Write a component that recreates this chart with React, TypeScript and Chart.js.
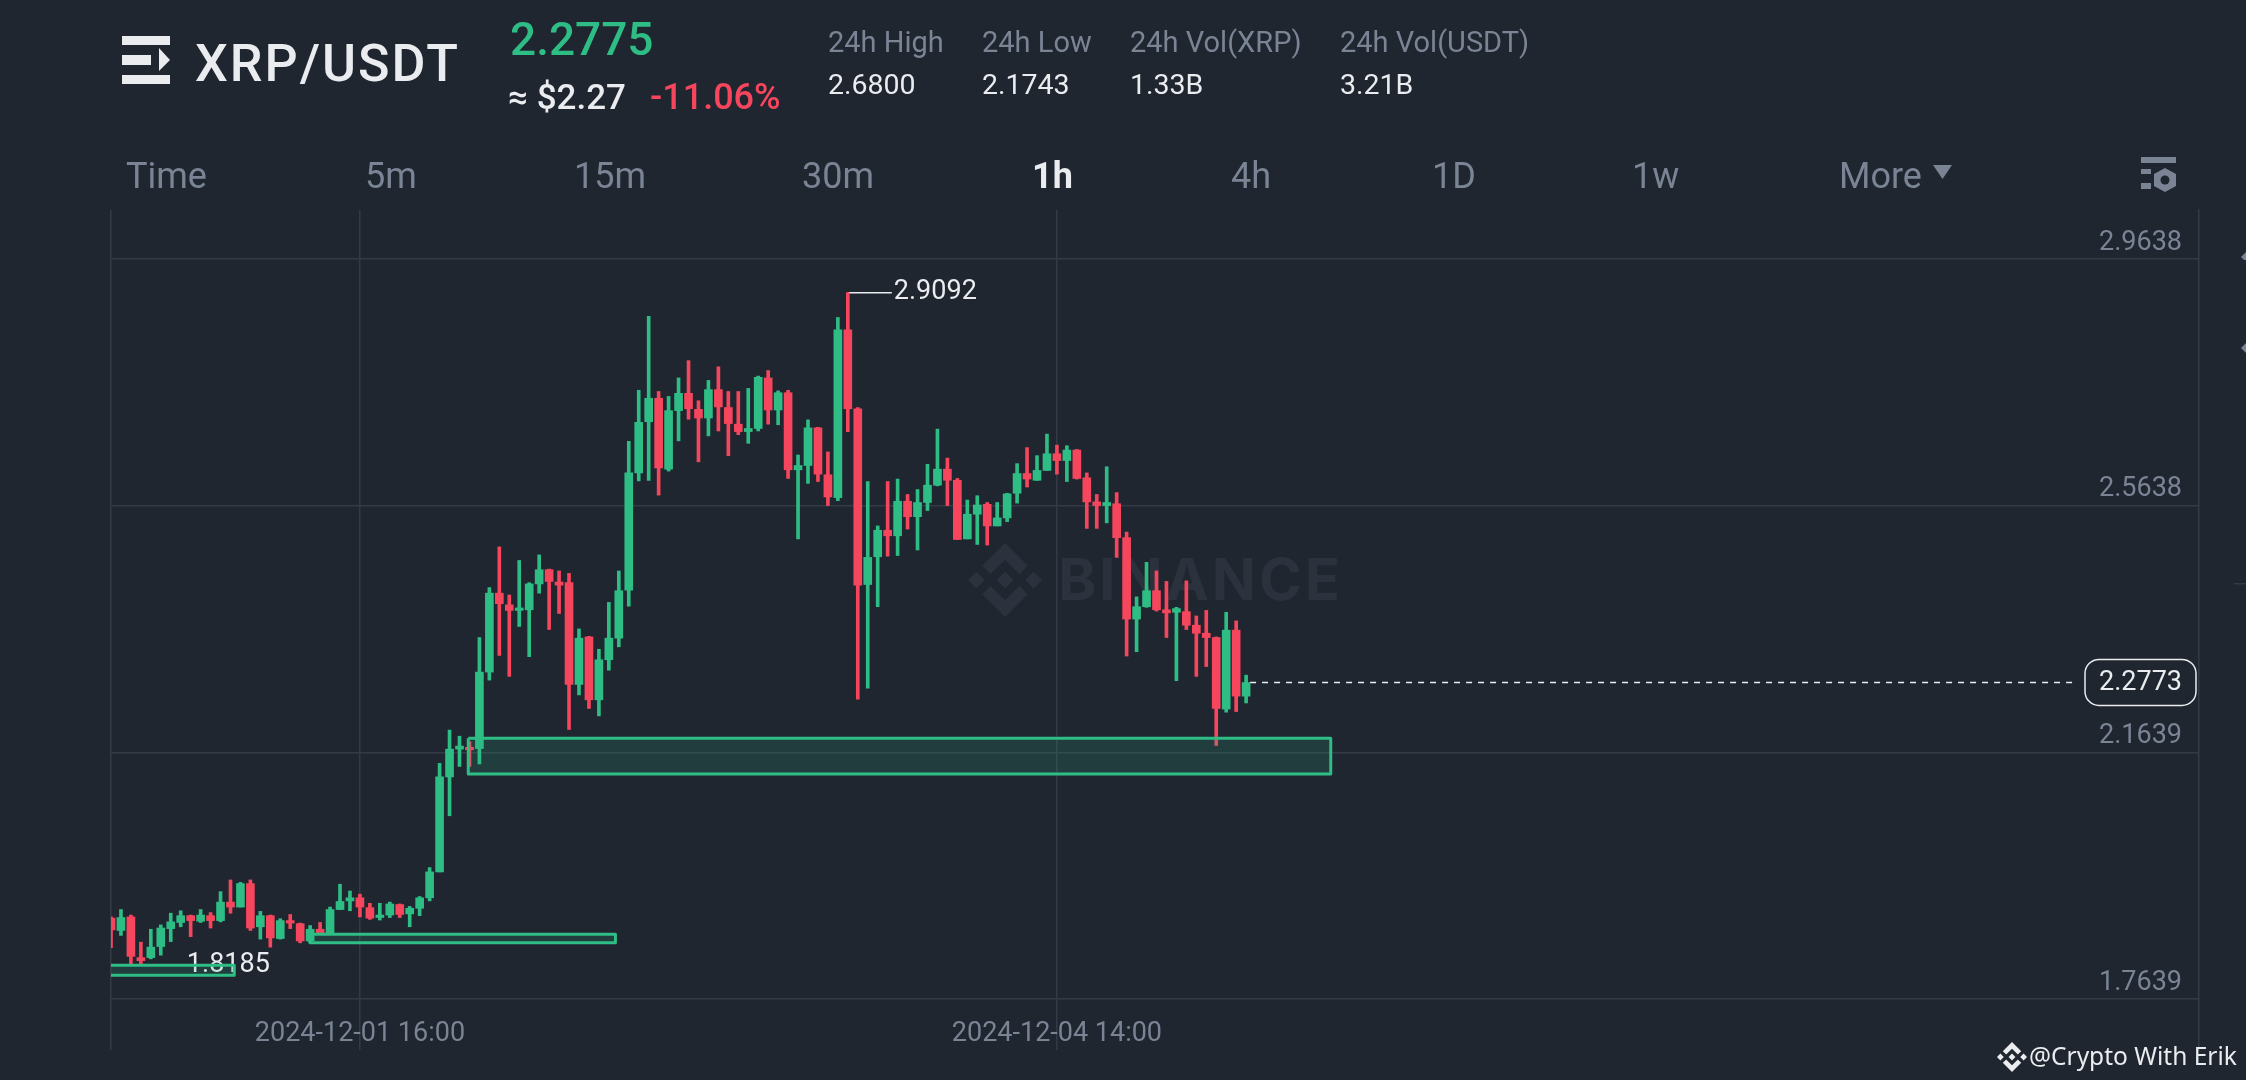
import React, { useEffect, useRef } from 'react';
import { Chart, registerables } from 'chart.js';

Chart.register(...registerables);

// hourly candles, one entry per hour
const opens = [
  1.895, 1.875, 1.897, 1.831, 1.831, 1.849, 1.878, 1.888, 1.899, 1.890,
  1.899, 1.891, 1.921, 1.913, 1.951, 1.881, 1.899, 1.862, 1.891, 1.886,
  1.858, 1.877, 1.871, 1.909, 1.923, 1.928, 1.912, 1.896, 1.900, 1.917,
  1.902, 1.911, 1.928, 1.970, 2.124, 2.169, 2.172, 2.170, 2.294, 2.422,
  2.403, 2.394, 2.395, 2.437, 2.460, 2.440, 2.439, 2.274, 2.351, 2.249,
  2.314, 2.349, 2.427, 2.617, 2.700, 2.738, 2.623, 2.718, 2.746, 2.720,
  2.706, 2.752, 2.723, 2.696, 2.684, 2.689, 2.771, 2.719, 2.747, 2.622,
  2.629, 2.690, 2.614, 2.577, 2.849, 2.721, 2.436, 2.481, 2.524, 2.515,
  2.571, 2.546, 2.569, 2.597, 2.623, 2.605, 2.510, 2.550, 2.566, 2.531,
  2.544, 2.584, 2.616, 2.605, 2.621, 2.648, 2.637, 2.654, 2.609, 2.570,
  2.564, 2.567, 2.512, 2.380, 2.400, 2.426, 2.395, 2.391, 2.392, 2.370,
  2.357, 2.350, 2.234, 2.362, 2.255,
];
const highs = [
  1.897, 1.909, 1.900, 1.856, 1.877, 1.884, 1.903, 1.907, 1.900, 1.909,
  1.904, 1.938, 1.957, 1.953, 1.957, 1.906, 1.900, 1.894, 1.901, 1.887,
  1.883, 1.888, 1.913, 1.950, 1.939, 1.934, 1.919, 1.919, 1.921, 1.918,
  1.914, 1.930, 1.977, 2.146, 2.200, 2.190, 2.181, 2.350, 2.431, 2.497,
  2.419, 2.475, 2.439, 2.484, 2.461, 2.458, 2.454, 2.364, 2.352, 2.331,
  2.407, 2.458, 2.668, 2.751, 2.871, 2.749, 2.741, 2.771, 2.799, 2.734,
  2.767, 2.789, 2.749, 2.749, 2.754, 2.774, 2.783, 2.750, 2.751, 2.646,
  2.703, 2.691, 2.651, 2.869, 2.9092, 2.723, 2.603, 2.531, 2.603, 2.607,
  2.582, 2.590, 2.631, 2.688, 2.641, 2.608, 2.573, 2.580, 2.569, 2.569,
  2.584, 2.632, 2.658, 2.645, 2.680, 2.662, 2.661, 2.655, 2.617, 2.582,
  2.627, 2.585, 2.521, 2.416, 2.472, 2.458, 2.441, 2.399, 2.442, 2.385,
  2.394, 2.351, 2.391, 2.377, 2.289,
];
const lows = [
  1.847, 1.867, 1.821, 1.8185, 1.829, 1.835, 1.857, 1.881, 1.865, 1.888,
  1.879, 1.889, 1.903, 1.913, 1.875, 1.861, 1.848, 1.861, 1.878, 1.855,
  1.856, 1.870, 1.870, 1.909, 1.907, 1.897, 1.893, 1.892, 1.896, 1.896,
  1.881, 1.899, 1.923, 1.970, 2.061, 2.141, 2.141, 2.145, 2.281, 2.321,
  2.287, 2.368, 2.319, 2.422, 2.363, 2.389, 2.201, 2.257, 2.235, 2.223,
  2.297, 2.335, 2.401, 2.604, 2.605, 2.581, 2.620, 2.669, 2.704, 2.635,
  2.677, 2.685, 2.645, 2.679, 2.665, 2.685, 2.696, 2.695, 2.608, 2.510,
  2.600, 2.603, 2.564, 2.572, 2.684, 2.250, 2.268, 2.400, 2.482, 2.483,
  2.526, 2.492, 2.556, 2.596, 2.564, 2.509, 2.510, 2.501, 2.500, 2.531,
  2.538, 2.568, 2.594, 2.605, 2.621, 2.615, 2.603, 2.607, 2.527, 2.527,
  2.536, 2.480, 2.320, 2.327, 2.399, 2.393, 2.350, 2.280, 2.363, 2.287,
  2.303, 2.175, 2.229, 2.230, 2.244,
];
const closes = [
  1.876, 1.896, 1.833, 1.826, 1.848, 1.879, 1.889, 1.899, 1.891, 1.900,
  1.891, 1.921, 1.913, 1.951, 1.879, 1.899, 1.863, 1.891, 1.887, 1.858,
  1.877, 1.871, 1.909, 1.922, 1.928, 1.913, 1.895, 1.900, 1.918, 1.901,
  1.911, 1.928, 1.970, 2.124, 2.169, 2.174, 2.168, 2.294, 2.422, 2.405,
  2.394, 2.398, 2.437, 2.460, 2.441, 2.435, 2.274, 2.349, 2.249, 2.314,
  2.349, 2.426, 2.617, 2.699, 2.738, 2.625, 2.718, 2.746, 2.721, 2.706,
  2.752, 2.724, 2.697, 2.684, 2.689, 2.772, 2.719, 2.747, 2.622, 2.629,
  2.690, 2.615, 2.578, 2.849, 2.721, 2.435, 2.480, 2.524, 2.515, 2.571,
  2.546, 2.569, 2.597, 2.623, 2.605, 2.509, 2.550, 2.565, 2.531, 2.544,
  2.583, 2.616, 2.607, 2.621, 2.648, 2.637, 2.654, 2.608, 2.570, 2.564,
  2.569, 2.512, 2.380, 2.400, 2.426, 2.395, 2.390, 2.397, 2.370, 2.357,
  2.350, 2.235, 2.362, 2.255, 2.277,
];

const priceTicks = [1.7639, 2.1639, 2.5638, 2.9638];
const timeTickIndexes = [25, 95];
const timeLabels = ['2024-12-01 16:00', '2024-12-04 14:00'];

// drawn zones: [start index, end index, top price, bottom price]
const zones = [
  [35.88, 122.5, 2.1866, 2.1287],
  [19.98, 50.66, 1.8688, 1.8552],
  [-1, 12.38, 1.8185, 1.8023],
];

const lastPrice = 2.2773;
const lastPriceLineEnd = 197;
const highMark = { index: 74, price: 2.9092 };
const lowMark = { index: 3, price: 1.8185 };

const tabNames = ['Time', '5m', '15m', '30m', '1h', '4h', '1D', '1w', 'More'];
const tabLefts = [126, 365, 574, 802, 1032, 1231, 1432, 1632, 1839];

const statLabels = ['24h High', '24h Low', '24h Vol(XRP)', '24h Vol(USDT)'];
const statValues = ['2.6800', '2.1743', '1.33B', '3.21B'];
const statLefts = [828, 982, 1130, 1340];

const BG = '#1f2630';
const UP = '#2ebd85';
const DOWN = '#f6465d';
const GRID = '#333a46';
const MUTED = '#7a8494';
const LIGHT = '#eaecef';
const LOGO =
  'M38.73 53.2l24.59-24.58 24.6 24.6 14.3-14.31L63.32 0 24.43 38.9l14.3 14.3zM0 63.31l14.3-14.31 14.31 14.31-14.31 14.3zM38.73 73.41l24.59 24.59 24.6-24.6 14.31 14.29-38.9 38.91-38.9-38.88v-.02zM98 63.31l14.3-14.31 14.31 14.3-14.31 14.32zM77.83 63.3L63.32 48.78 52.59 59.51l-1.24 1.23-2.54 2.54 14.51 14.5 14.51-14.47z';

const colors = closes.map((c, i) => (c >= opens[i] ? UP : DOWN));

const annotations = {
  id: 'annotations',
  beforeDatasetsDraw(chart: any) {
    const { ctx, scales } = chart;
    ctx.save();
    ctx.font = '27px Roboto';
    ctx.textBaseline = 'middle';
    ctx.textAlign = 'left';
    [highMark, lowMark].forEach((m) => {
      const x = scales.x.getPixelForValue(m.index);
      const y = scales.y.getPixelForValue(m.price);
      ctx.strokeStyle = LIGHT;
      ctx.lineWidth = 1.5;
      ctx.beginPath();
      ctx.moveTo(x, y);
      ctx.lineTo(x + 44, y);
      ctx.stroke();
      ctx.fillStyle = LIGHT;
      ctx.fillText(m.price.toFixed(4), x + 46, y);
    });
    ctx.restore();
  },
  afterDatasetsDraw(chart: any) {
    const { ctx, scales, chartArea } = chart;
    const y = scales.y.getPixelForValue(lastPrice);
    const right = chartArea.right - 3;
    ctx.save();
    ctx.beginPath();
    ctx.roundRect(right - 111, y - 23, 111, 46, 14);
    ctx.fillStyle = BG;
    ctx.fill();
    ctx.strokeStyle = LIGHT;
    ctx.lineWidth = 1.5;
    ctx.stroke();
    ctx.font = '27px Roboto';
    ctx.fillStyle = LIGHT;
    ctx.textAlign = 'right';
    ctx.textBaseline = 'middle';
    ctx.fillText(lastPrice.toFixed(4), chartArea.right - 17, y + 1);
    ctx.restore();
  },
};

const Text: React.FC<{ left: number; cy: number; size: number; color: string; weight?: number; spacing?: number; children: React.ReactNode }> = ({
  left,
  cy,
  size,
  color,
  weight = 400,
  spacing = 0,
  children,
}) => (
  <div
    style={{
      position: 'absolute',
      left,
      top: cy - size / 2,
      fontSize: size,
      lineHeight: 1,
      fontWeight: weight,
      letterSpacing: spacing,
      color,
      whiteSpace: 'nowrap',
    }}
  >
    {children}
  </div>
);

const App: React.FC = () => {
  const canvasRef = useRef<HTMLCanvasElement | null>(null);

  useEffect(() => {
    if (!canvasRef.current) return;
    const ctx = canvasRef.current.getContext('2d');
    if (!ctx) return;

    const myChart = new Chart(ctx, {
      data: {
        datasets: [
          ...zones.map((z) => ({
            type: 'line' as const,
            data: [
              { x: z[0], y: z[2] },
              { x: z[1], y: z[2] },
              { x: z[1], y: z[3] },
              { x: z[0], y: z[3] },
              { x: z[0], y: z[2] },
            ],
            borderColor: UP,
            borderWidth: 3,
            borderJoinStyle: 'round' as const,
            backgroundColor: 'rgba(46,189,133,0.16)',
            fill: 'shape',
            pointRadius: 0,
            clip: 0,
            order: 0,
          })),
          {
            type: 'line' as const,
            data: [
              { x: opens.length - 0.6, y: lastPrice },
              { x: lastPriceLineEnd, y: lastPrice },
            ],
            borderColor: LIGHT,
            borderWidth: 1.5,
            borderDash: [6, 6],
            pointRadius: 0,
            order: 0,
          },
          {
            type: 'bar' as const,
            data: opens.map((o, i) => ({ x: i, y: [o, closes[i]] })),
            backgroundColor: colors,
            barThickness: 8,
            grouped: false,
            clip: 0,
            order: 1,
          },
          {
            type: 'bar' as const,
            data: lows.map((l, i) => ({ x: i, y: [l, highs[i]] })),
            backgroundColor: colors,
            barThickness: 3,
            grouped: false,
            clip: 0,
            order: 2,
          },
        ],
      },
      options: {
        responsive: false,
        animation: false,
        layout: { padding: { left: 111, right: 47, top: 210, bottom: 30 } },
        plugins: { legend: { display: false }, tooltip: { enabled: false } },
        scales: {
          x: {
            type: 'linear',
            offset: false,
            min: 0,
            max: 209.7,
            afterBuildTicks: (scale: any) => {
              scale.ticks = [0, ...timeTickIndexes].map((value) => ({ value }));
            },
            afterFit: (scale: any) => {
              scale.height = 0;
            },
            grid: { offset: false, color: GRID, lineWidth: 1.5, drawTicks: false },
            border: { display: false },
            ticks: {
              autoSkip: false,
              maxRotation: 0,
              mirror: true,
              padding: 0,
              color: MUTED,
              font: { family: 'Roboto', size: 27 },
              callback: (value: any) => {
                const k = timeTickIndexes.indexOf(Number(value));
                return k < 0 ? '' : timeLabels[k];
              },
            },
          },
          y: {
            type: 'linear',
            position: 'right',
            min: 1.6812,
            max: 3.0433,
            afterBuildTicks: (scale: any) => {
              scale.ticks = priceTicks.map((value) => ({ value }));
            },
            afterFit: (scale: any) => {
              scale.width = 0;
            },
            grid: { color: GRID, lineWidth: 1.5, drawTicks: false },
            border: { display: true, color: GRID, width: 1.5 },
            ticks: {
              mirror: true,
              padding: -17,
              labelOffset: -16,
              color: MUTED,
              font: { family: 'Roboto', size: 27 },
              callback: (value: any) => Number(value).toFixed(4),
            },
          },
        },
      },
      plugins: [annotations],
    } as any);

    return () => {
      myChart.destroy();
    };
  }, []);

  return (
    <div
      style={{
        position: 'absolute',
        left: 0,
        top: 0,
        width: 2246,
        height: 1080,
        overflow: 'hidden',
        background: BG,
        fontFamily: 'Roboto, sans-serif',
      }}
    >
      {/* watermark sits under the transparent canvas */}
      <svg width={2246} height={1080} style={{ position: 'absolute', left: 0, top: 0 }}>
        <g transform="translate(968 543) scale(0.585)">
          <path d={LOGO} fill="#2c323d" />
        </g>
        <text x={1058} y={600} fontFamily="Inter" fontWeight={700} fontSize={58} fill="#2c323d" textLength={282} lengthAdjust="spacing">
          BINANCE
        </text>
      </svg>

      <canvas ref={canvasRef} width={2246} height={1080} style={{ position: 'absolute', left: 0, top: 0 }} />

      {/* pair icon */}
      <svg width={60} height={60} style={{ position: 'absolute', left: 121, top: 30 }}>
        <rect x={1} y={6} width={48} height={9} fill={LIGHT} />
        <rect x={1} y={25} width={29} height={10} fill={LIGHT} />
        <path d="M38 18 L49 30 L38 41 Z" fill={LIGHT} />
        <rect x={1} y={45} width={48} height={9} fill={LIGHT} />
      </svg>
      <Text left={195} cy={64} size={52} color={LIGHT} weight={500} spacing={2}>XRP/USDT</Text>
      <Text left={510} cy={39} size={46} color={UP} weight={500}>2.2775</Text>
      <Text left={508} cy={97} size={35} color={LIGHT} weight={500}>≈ $2.27</Text>
      <Text left={650} cy={97} size={36} color={DOWN} weight={500}>-11.06%</Text>

      {statLabels.map((label, i) => (
        <React.Fragment key={label}>
          <Text left={statLefts[i]} cy={42} size={29} color={MUTED}>{label}</Text>
          <Text left={statLefts[i]} cy={85} size={28.5} color={LIGHT}>{statValues[i]}</Text>
        </React.Fragment>
      ))}

      {tabNames.map((tab, i) => (
        <Text key={tab} left={tabLefts[i]} cy={176} size={36} color={tab === '1h' ? LIGHT : MUTED} weight={tab === '1h' ? 700 : 400}>
          {tab}
        </Text>
      ))}
      {/* More caret and settings icon */}
      <svg width={2246} height={260} style={{ position: 'absolute', left: 0, top: 0 }}>
        <path d="M1933 165 H1952 L1942.5 179 Z" fill={MUTED} />
        <rect x={2141} y={157} width={35} height={6} fill={MUTED} />
        <rect x={2141} y={169} width={10} height={5} fill={MUTED} />
        <rect x={2141} y={183} width={10} height={6} fill={MUTED} />
        <path d="M2165 168 L2176 174 V186 L2165 192 L2154 186 V174 Z" fill={MUTED} />
        <circle cx={2165} cy={180} r={4.5} fill={BG} />
        <path d="M2246 252 L2241 257 L2246 262 Z" fill={MUTED} />
      </svg>
      <svg width={20} height={400} style={{ position: 'absolute', left: 2226, top: 300 }}>
        <path d="M20 43 L15 48 L20 53 Z" fill={MUTED} />
        <rect x={8} y={283} width={12} height={1.5} fill={GRID} />
      </svg>

      {/* credit, bottom right */}
      <svg width={30} height={30} viewBox="0 0 126.61 126.61" style={{ position: 'absolute', left: 1997, top: 1042 }}>
        <path d={LOGO} fill={LIGHT} />
      </svg>
      <Text left={2029} cy={1056} size={24.5} color={LIGHT}>
        <span style={{ fontFamily: '"Noto Sans"' }}>@Crypto With Erik</span>
      </Text>
    </div>
  );
};

export default App;
